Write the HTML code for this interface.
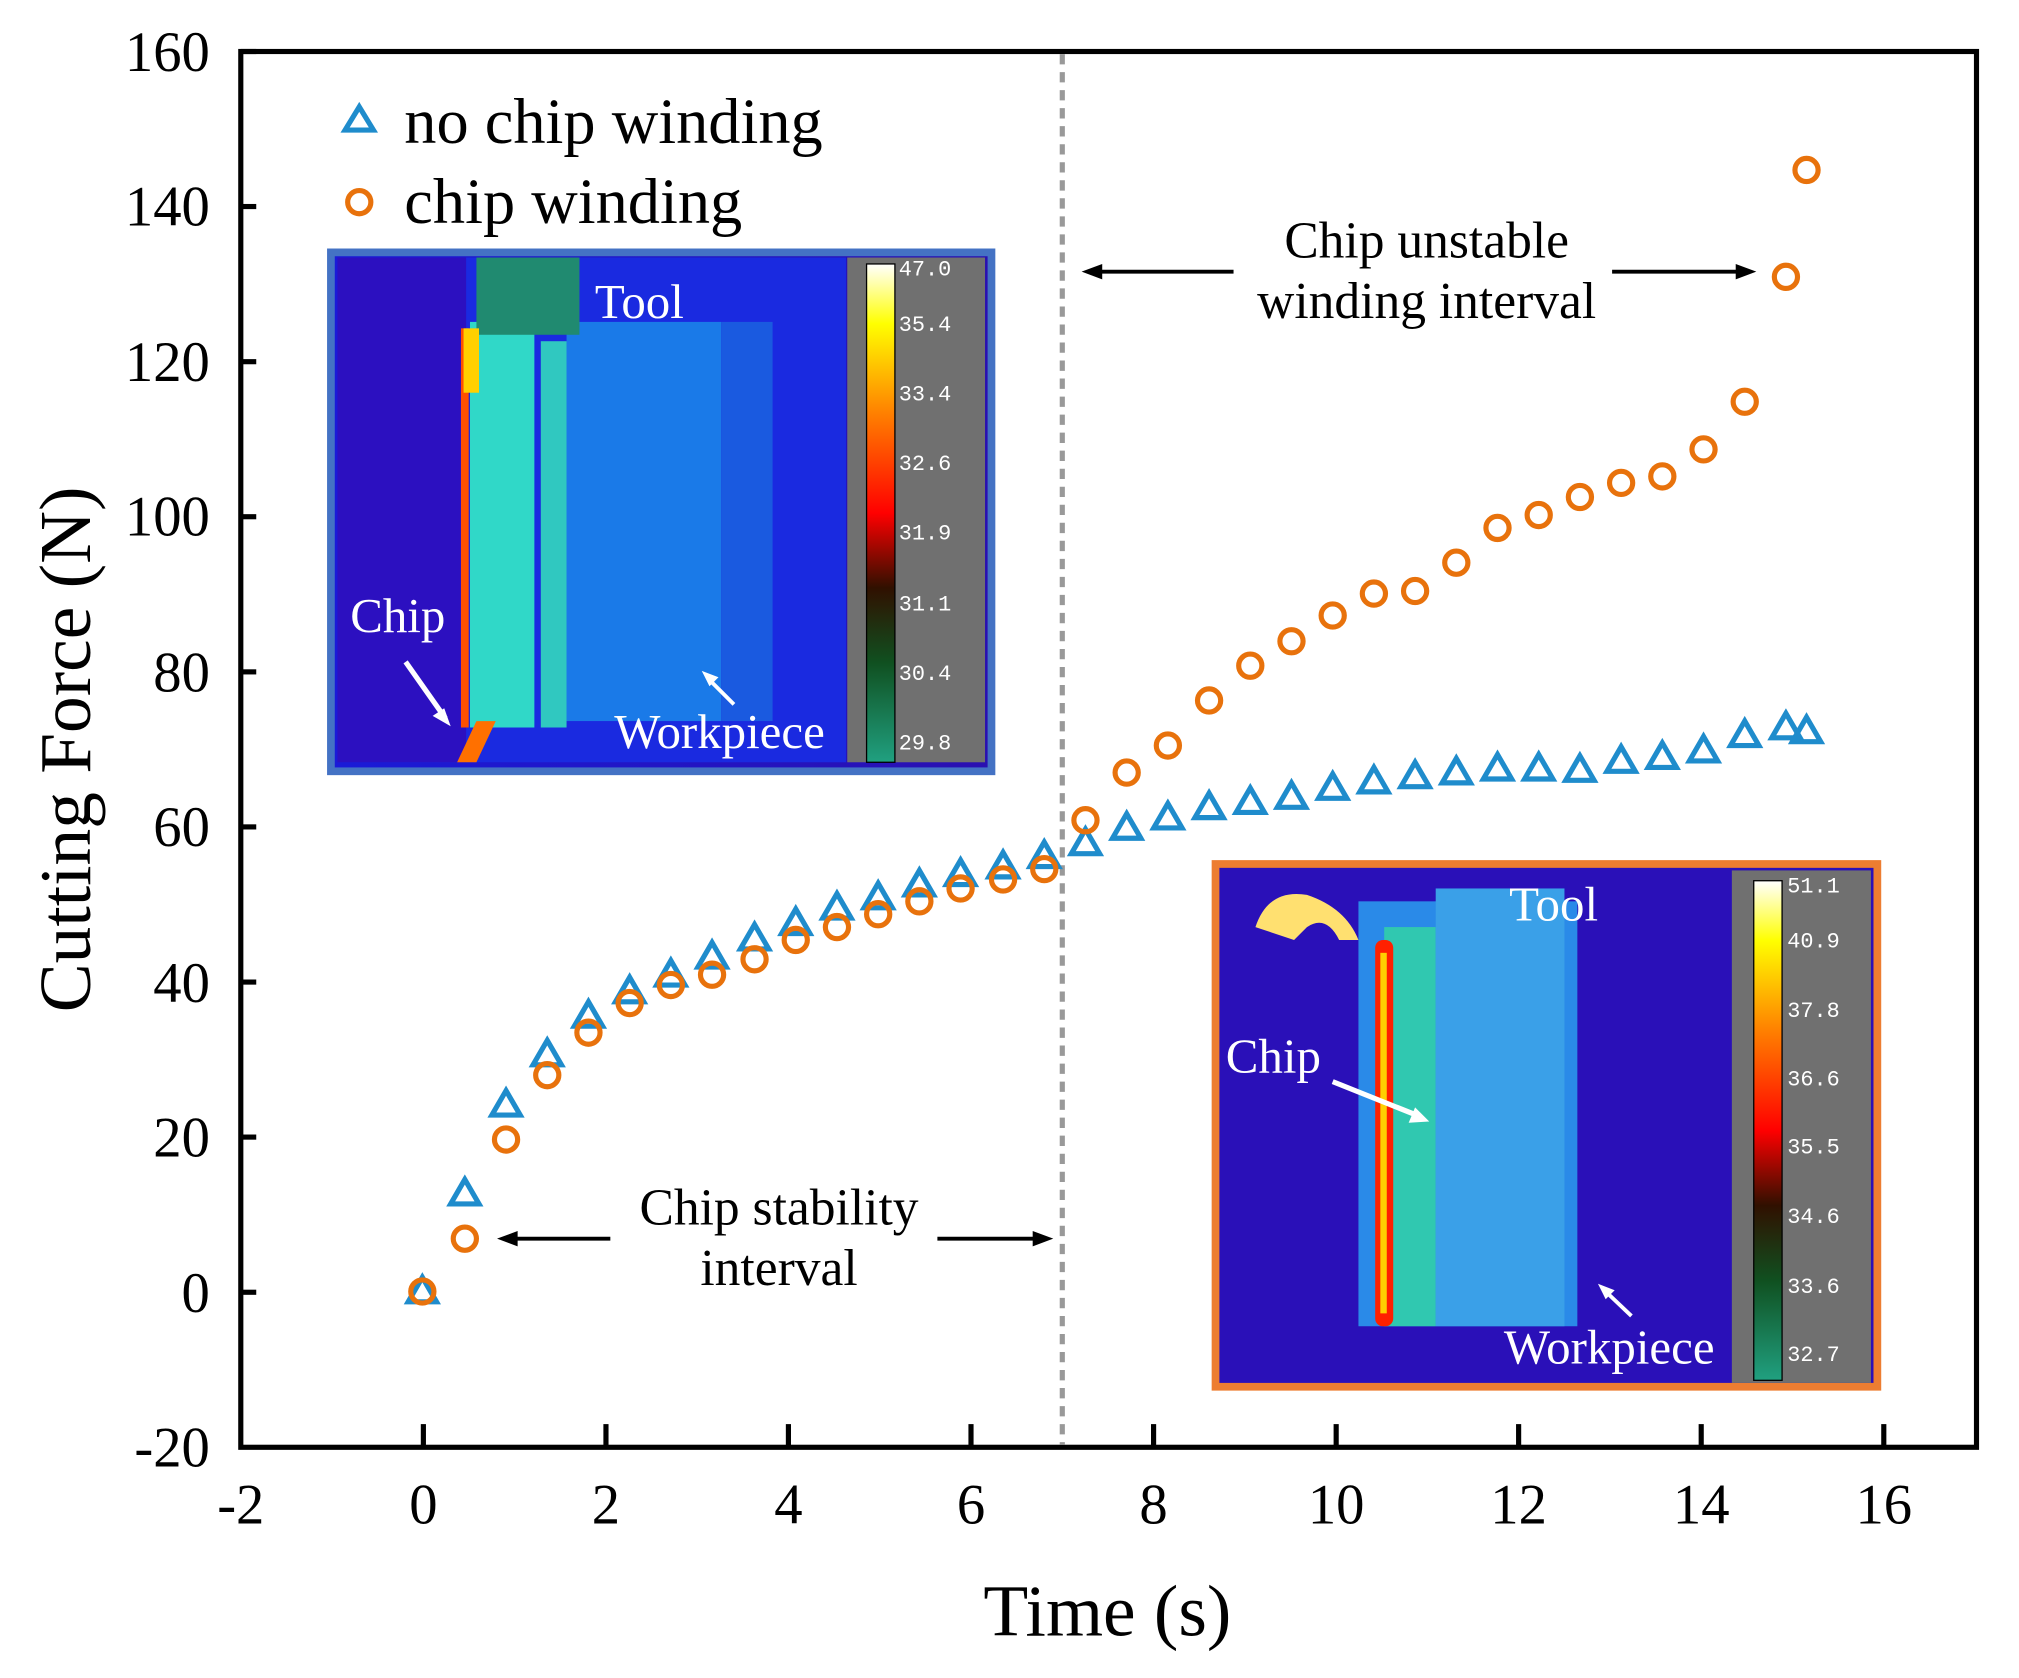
<!DOCTYPE html>
<html><head><style>html,body{margin:0;padding:0;background:#fff}</style></head><body>
<svg width="2019" height="1673" viewBox="0 0 1568 1299.3" xmlns="http://www.w3.org/2000/svg" font-family="Liberation Serif, serif">
<defs>
<linearGradient id="cb1" x1="0" y1="1" x2="0" y2="0">
<stop offset="0" stop-color="#20a080"/><stop offset="0.2" stop-color="#105020"/><stop offset="0.35" stop-color="#301000"/><stop offset="0.5" stop-color="#ff0000"/><stop offset="0.7" stop-color="#ff8000"/><stop offset="0.88" stop-color="#ffff00"/><stop offset="1" stop-color="#ffffff"/>
</linearGradient>
<linearGradient id="bgL" x1="0" y1="0" x2="1" y2="0"><stop offset="0" stop-color="#1a1ad8"/><stop offset="1" stop-color="#2a10b0"/></linearGradient>
</defs>
<rect x="187" y="40" width="1348" height="1084" fill="none" stroke="#000" stroke-width="4"/>
<g stroke="#000" stroke-width="4">
<line x1="187" y1="40" x2="199" y2="40"/><line x1="187" y1="160.4" x2="199" y2="160.4"/><line x1="187" y1="280.9" x2="199" y2="280.9"/><line x1="187" y1="401.3" x2="199" y2="401.3"/><line x1="187" y1="521.8" x2="199" y2="521.8"/><line x1="187" y1="642.2" x2="199" y2="642.2"/><line x1="187" y1="762.7" x2="199" y2="762.7"/><line x1="187" y1="883.1" x2="199" y2="883.1"/><line x1="187" y1="1003.6" x2="199" y2="1003.6"/>
<line x1="328.8" y1="1124" x2="328.8" y2="1106"/><line x1="470.6" y1="1124" x2="470.6" y2="1106"/><line x1="612.3" y1="1124" x2="612.3" y2="1106"/><line x1="754.1" y1="1124" x2="754.1" y2="1106"/><line x1="895.9" y1="1124" x2="895.9" y2="1106"/><line x1="1037.7" y1="1124" x2="1037.7" y2="1106"/><line x1="1179.4" y1="1124" x2="1179.4" y2="1106"/><line x1="1321.2" y1="1124" x2="1321.2" y2="1106"/><line x1="1463" y1="1124" x2="1463" y2="1106"/>
</g>
<g font-size="44" text-anchor="end" fill="#000">
<text x="163" y="55">160</text><text x="163" y="175">140</text><text x="163" y="296">120</text><text x="163" y="416">100</text><text x="163" y="537">80</text><text x="163" y="657">60</text><text x="163" y="778">40</text><text x="163" y="898">20</text><text x="163" y="1019">0</text><text x="163" y="1139">-20</text>
</g>
<g font-size="44" text-anchor="middle" fill="#000">
<text x="187" y="1183">-2</text><text x="328.8" y="1183">0</text><text x="470.6" y="1183">2</text><text x="612.3" y="1183">4</text><text x="754.1" y="1183">6</text><text x="895.9" y="1183">8</text><text x="1037.7" y="1183">10</text><text x="1179.4" y="1183">12</text><text x="1321.2" y="1183">14</text><text x="1463" y="1183">16</text>
</g>
<text x="860" y="1270" font-size="57" text-anchor="middle">Time (s)</text>
<text transform="translate(70,582) rotate(-90)" font-size="57" text-anchor="middle">Cutting Force (N)</text>
<line x1="825" y1="42" x2="825" y2="1122" stroke="#999" stroke-width="4" stroke-dasharray="8,6"/>
<rect x="257" y="196" width="513" height="403" fill="url(#bgL)" stroke="#4472c4" stroke-width="6"/>
<rect x="262" y="200" width="395" height="392" fill="#1a2ae0"/>
<rect x="262" y="200" width="100" height="392" fill="#2c10c0"/>
<rect x="440" y="250" width="120" height="310" fill="#1a7ae8"/>
<rect x="560" y="250" width="40" height="310" fill="#1a5ae0"/>
<rect x="365" y="250" width="50" height="315" fill="#30d8c8"/>
<rect x="420" y="265" width="20" height="300" fill="#30c8c0"/>
<rect x="370" y="200" width="80" height="60" fill="#208a70"/>
<rect x="358" y="255" width="6" height="310" fill="#ff5000"/>
<rect x="360" y="255" width="12" height="50" fill="#ffd000"/>
<polygon points="355,592 370,560 385,560 370,592" fill="#ff7000"/>
<rect x="658" y="200" width="107" height="392" fill="#707070"/>
<rect x="673" y="205" width="22" height="387" fill="url(#cb1)" stroke="#000" stroke-width="1"/>
<g font-family="Liberation Mono, monospace" font-size="17" fill="#fff">
<text x="698" y="214">47.0</text><text x="698" y="257">35.4</text><text x="698" y="311">33.4</text><text x="698" y="365">32.6</text><text x="698" y="419">31.9</text><text x="698" y="474">31.1</text><text x="698" y="528">30.4</text><text x="698" y="582">29.8</text>
</g>
<g fill="#fff" font-size="38">
<text x="462" y="247">Tool</text><text x="272" y="491">Chip</text><text x="477" y="581">Workpiece</text>
</g>
<line x1="315" y1="514" x2="346" y2="558" stroke="#fff" stroke-width="4"/><polygon points="350,564 336,556 345,550" fill="#fff"/>
<line x1="570" y1="547" x2="550" y2="527" stroke="#fff" stroke-width="3"/><polygon points="545,521 558,526 551,533" fill="#fff"/>
<rect x="944" y="671" width="514" height="406" fill="#2a10b8" stroke="#ed7d31" stroke-width="6"/>
<rect x="1055" y="700" width="170" height="330" fill="#2a8ae8"/>
<rect x="1075" y="720" width="40" height="310" fill="#30c8b0"/>
<rect x="1115" y="690" width="100" height="340" fill="#3aa0e8"/>
<rect x="1068" y="730" width="14" height="300" fill="#ff2000" rx="6"/>
<rect x="1072" y="740" width="5" height="280" fill="#ffd000"/>
<path d="M975,720 q10,-30 40,-25 q30,10 40,35 l-15,0 q-10,-20 -25,-10 l-10,10 z" fill="#ffe070"/>
<rect x="1345" y="676" width="108" height="398" fill="#707070"/>
<rect x="1362" y="684" width="22" height="388" fill="url(#cb1)" stroke="#000" stroke-width="1"/>
<g font-family="Liberation Mono, monospace" font-size="17" fill="#fff">
<text x="1388" y="693">51.1</text><text x="1388" y="736">40.9</text><text x="1388" y="790">37.8</text><text x="1388" y="843">36.6</text><text x="1388" y="896">35.5</text><text x="1388" y="950">34.6</text><text x="1388" y="1004">33.6</text><text x="1388" y="1057">32.7</text>
</g>
<g fill="#fff" font-size="38">
<text x="1172" y="715">Tool</text><text x="952" y="833">Chip</text><text x="1168" y="1059">Workpiece</text>
</g>
<line x1="1035" y1="840" x2="1100" y2="866" stroke="#fff" stroke-width="4"/><polygon points="1110,871 1094,872 1099,860" fill="#fff"/>
<line x1="1267" y1="1022" x2="1247" y2="1003" stroke="#fff" stroke-width="3"/><polygon points="1241,997 1254,1002 1247,1009" fill="#fff"/>
<g font-size="40" text-anchor="middle" fill="#000">
<text x="1108" y="200">Chip unstable</text><text x="1108" y="247">winding interval</text>
<text x="605" y="951">Chip stability</text><text x="605" y="998">interval</text>
</g>
<g stroke="#000" stroke-width="3">
<line x1="850" y1="211" x2="958" y2="211"/><line x1="1252" y1="211" x2="1352" y2="211"/>
<line x1="397" y1="962" x2="474" y2="962"/><line x1="728" y1="962" x2="806" y2="962"/>
</g>
<g fill="#000">
<polygon points="840,211 856,205 856,217"/><polygon points="1364,211 1348,205 1348,217"/>
<polygon points="386,962 402,956 402,968"/><polygon points="818,962 802,956 802,968"/>
</g>
<polygon points="279,83 268,101 290,101" fill="none" stroke="#1f8ccc" stroke-width="4"/>
<circle cx="279" cy="157" r="9" fill="none" stroke="#e8720c" stroke-width="4"/>
<text x="314" y="111" font-size="50">no chip winding</text>
<text x="314" y="173" font-size="50">chip winding</text>
<g fill="none" stroke="#1f8ccc" stroke-width="4" id="tri"></g>
<g fill="none" stroke="#e8720c" stroke-width="4" id="cir"></g>
<script>
var T=[[328,1003],[361,927],[393,858],[425,819],[457,789],[489,770],[521,757],[553,743],[586,729],[618,717],[650,705],[682,697],[714,687],[746,679],[779,673],[811,665],[843,655],[875,643],[907,635],[939,627],[971,623],[1003,619],[1035,612],[1067,607],[1099,603],[1131,600],[1163,597],[1195,597],[1227,598],[1259,591],[1291,588],[1323,583],[1355,571],[1387,565],[1403,568]];
var C=[[328,1003],[361,962],[393,885],[425,835],[457,802],[489,779],[521,765],[553,757],[586,745],[618,730],[650,720],[682,710],[714,700],[746,690],[779,683],[811,675],[843,637],[875,600],[907,579],[939,544],[971,517],[1003,498],[1035,478],[1067,461],[1099,459],[1131,437],[1163,410],[1195,400],[1227,386],[1259,375],[1291,370],[1323,349],[1355,312],[1387,215],[1403,132]];
var ns="http://www.w3.org/2000/svg",t=document.getElementById("tri"),c=document.getElementById("cir");
T.forEach(function(p){var e=document.createElementNS(ns,"polygon");e.setAttribute("points",p[0]+","+(p[1]-11)+" "+(p[0]-11)+","+(p[1]+8)+" "+(p[0]+11)+","+(p[1]+8));t.appendChild(e);});
C.forEach(function(p){var e=document.createElementNS(ns,"circle");e.setAttribute("cx",p[0]);e.setAttribute("cy",p[1]);e.setAttribute("r",9);c.appendChild(e);});
</script>
</svg>
</body></html>
